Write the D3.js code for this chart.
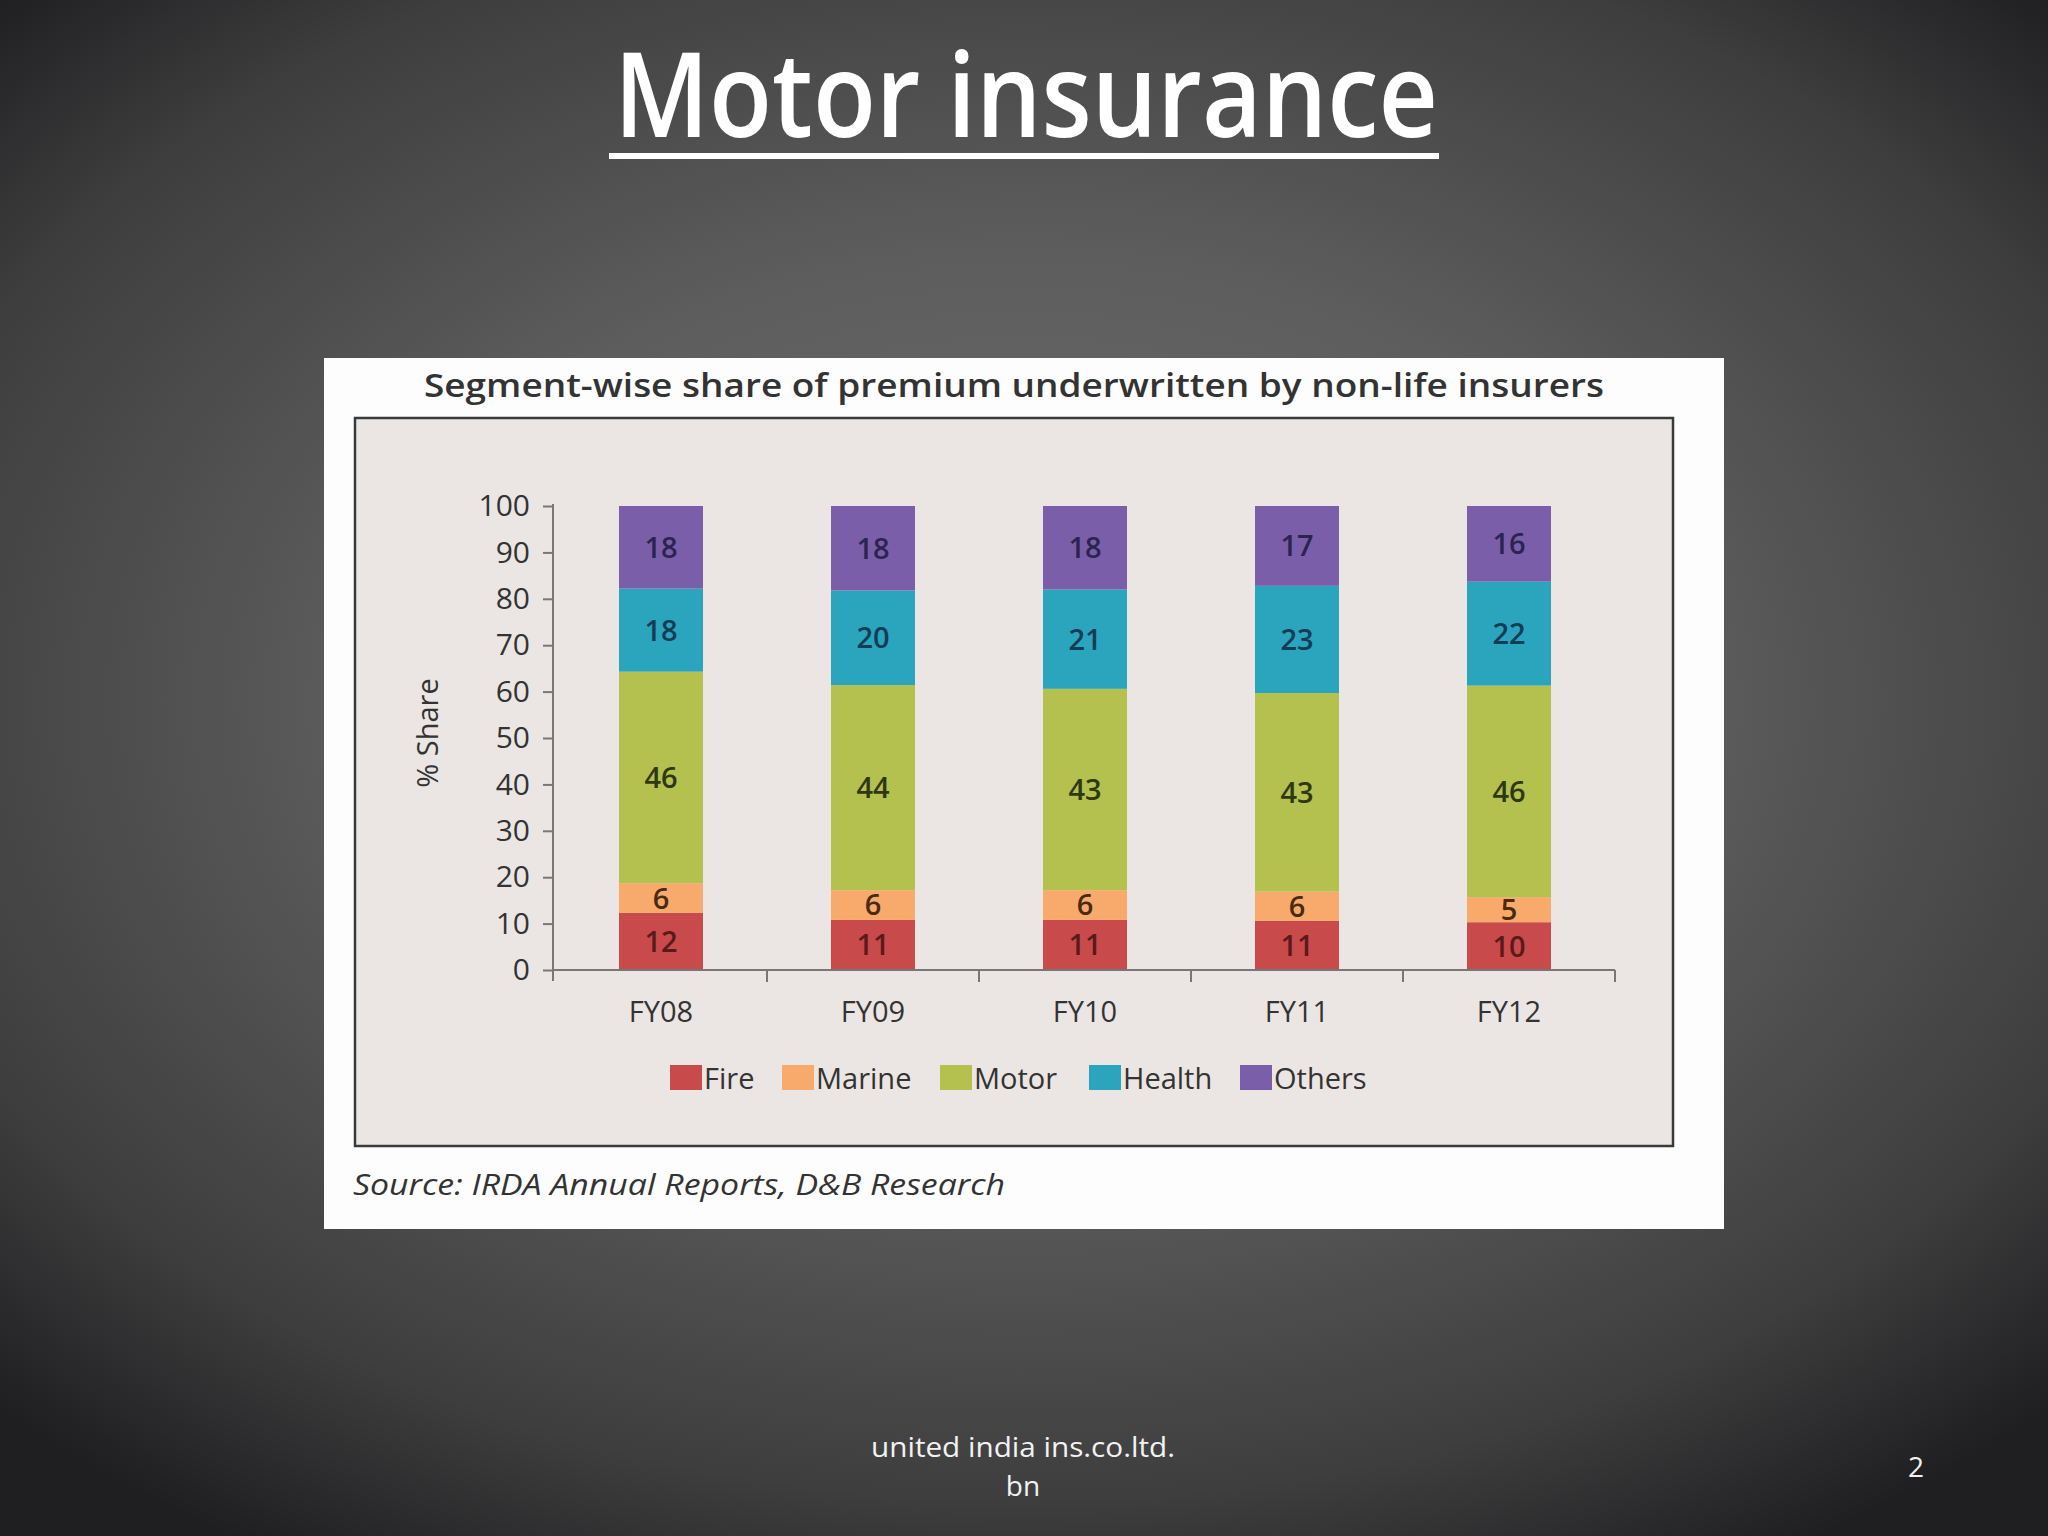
<!DOCTYPE html>
<html>
<head>
<meta charset="utf-8">
<script src="https://cdn.jsdelivr.net/npm/d3@7"></script>
<style>
html,body{margin:0;padding:0;background:#333;}
svg{display:block;}
text{font-family:"Open Sans","Noto Sans",sans-serif;}
</style>
</head>
<body>
<svg id="c" width="2048" height="1536"></svg>
<script>
// ---- data ----
const categories = ["FY08", "FY09", "FY10", "FY11", "FY12"];
const seriesNames = ["Fire", "Marine", "Motor", "Health", "Others"];
const fire   = [12.3, 10.8, 10.8, 10.6, 10.3];
const marine = [6.4, 6.4, 6.4, 6.3, 5.4];
const motor  = [45.6, 44.2, 43.4, 42.8, 45.6];
const health = [17.9, 20.4, 21.4, 23.1, 22.4];
const others = [17.8, 18.2, 18.0, 17.2, 16.3];
const yTicks = [0, 10, 20, 30, 40, 50, 60, 70, 80, 90, 100];
const pageTitle = "Motor insurance";
const chartTitle = "Segment-wise share of premium underwritten by non-life insurers";
const yTitle = "% Share";
const sourceText = "Source: IRDA Annual Reports, D&B Research";
const footer1 = "united india ins.co.ltd.";
const footer2 = "bn";
const pageNo = "2";

// ---- styles ----
const fills = {Fire:"#c94a4b", Marine:"#f8a96c", Motor:"#b4c14f", Health:"#2ba4be", Others:"#7a5ea9"};
const labelInk = {Fire:"#5a1a1c", Marine:"#4a2a10", Motor:"#2e3812", Health:"#133c55", Others:"#2b2450"};

const seriesArrays = {Fire:fire, Marine:marine, Motor:motor, Health:health, Others:others};
const table = categories.map((c, i) => {
  const row = {cat: c};
  seriesNames.forEach(s => row[s] = seriesArrays[s][i]);
  return row;
});

const svg = d3.select("#c");
const defs = svg.append("defs");
const g = defs.append("radialGradient").attr("id","bg")
  .attr("gradientUnits","userSpaceOnUse")
  .attr("cx",1024).attr("cy",700).attr("r",1000)
  .attr("gradientTransform","translate(1024,700) scale(1.45,1) translate(-1024,-700)");
[[0,"#6d6d6d"],[0.45,"#5d5d5e"],[0.8,"#3e3e3f"],[1,"#1f1f21"]].forEach(([o,c]) =>
  g.append("stop").attr("offset",o).attr("stop-color",c));

svg.append("rect").attr("width",2048).attr("height",1536).attr("fill","url(#bg)");

// page title
svg.append("text").attr("x",1026).attr("y",137).attr("text-anchor","middle")
  .attr("fill","#ffffff").attr("font-size",118).attr("font-weight",600)
  .attr("textLength",824).attr("lengthAdjust","spacingAndGlyphs")
  .text(pageTitle);
svg.append("rect").attr("x",609).attr("y",153).attr("width",830).attr("height",6).attr("fill","#ffffff");

// white card
svg.append("rect").attr("x",324).attr("y",358).attr("width",1400).attr("height",871).attr("fill","#fdfdfd");
svg.append("text").attr("x",1014).attr("y",397).attr("text-anchor","middle")
  .attr("fill","#333").attr("font-size",32).attr("font-weight",600)
  .attr("textLength",1180).attr("lengthAdjust","spacingAndGlyphs")
  .text(chartTitle);

// panel
svg.append("rect").attr("x",355).attr("y",418).attr("width",1318).attr("height",728)
  .attr("fill","#ebe6e3").attr("stroke","#3a3a3a").attr("stroke-width",2.5);

// scales
const x = d3.scaleBand().domain(categories).range([555, 1615]).padding(0);
const y = d3.scaleLinear().domain([0, 100]).range([970, 506]);
const barW = 84;

const stack = d3.stack().keys(seriesNames)(table);

const layer = svg.append("g").selectAll("g").data(stack).join("g")
  .attr("fill", d => fills[d.key]);
layer.selectAll("rect").data(d => d.map(p => ({p, key: d.key}))).join("rect")
  .attr("x", d => x(d.p.data.cat) + x.bandwidth()/2 - barW/2)
  .attr("width", barW)
  .attr("y", d => y(d.p[1]))
  .attr("height", d => y(d.p[0]) - y(d.p[1]));

// value labels
const fmt = d3.format(".0f");
stack.forEach(s => {
  svg.append("g").selectAll("text").data(s).join("text")
    .attr("x", d => x(d.data.cat) + x.bandwidth()/2)
    .attr("y", d => (y(d[0]) + y(d[1]))/2)
    .attr("dy","0.36em")
    .attr("text-anchor","middle")
    .attr("font-size",29).attr("font-weight",600)
    .attr("fill", labelInk[s.key])
    .text(d => fmt(d[1]-d[0]));
});

// y axis
const yAxis = svg.append("g").attr("transform","translate(553,0)")
  .call(d3.axisLeft(y).tickValues(yTicks).tickSize(10).tickPadding(13));
yAxis.select(".domain").remove();
yAxis.selectAll(".tick line").attr("stroke","#777").attr("stroke-width",2);
yAxis.selectAll(".tick text").attr("fill","#333").attr("font-size",30)
  .attr("font-family","'Open Sans','Noto Sans',sans-serif");
svg.append("line").attr("x1",553).attr("x2",553).attr("y1",y(100)-2).attr("y2",981)
  .attr("stroke","#777").attr("stroke-width",2);

// x axis
svg.append("line").attr("x1",553).attr("x2",x.range()[1]).attr("y1",y(0)).attr("y2",y(0))
  .attr("stroke","#777").attr("stroke-width",2);
const bounds = categories.map(c => x(c)).concat([x.range()[1]]);
svg.append("g").selectAll("line").data(bounds.slice(1)).join("line")
  .attr("x1", d => d).attr("x2", d => d).attr("y1", y(0)).attr("y2", y(0)+12)
  .attr("stroke","#777").attr("stroke-width",2);
const xAxis = svg.append("g").attr("transform",`translate(0,${y(0)})`)
  .call(d3.axisBottom(x).tickSize(0).tickPadding(31));
xAxis.select(".domain").remove();
xAxis.selectAll(".tick text").attr("fill","#333").attr("font-size",29)
  .attr("font-family","'Open Sans','Noto Sans',sans-serif");

// y title
svg.append("text").attr("transform","translate(438,733) rotate(-90)")
  .attr("text-anchor","middle").attr("fill","#333").attr("font-size",29)
  .text(yTitle);

// legend
const legendX = [670, 782, 940, 1089, 1240];
const lg = svg.append("g").selectAll("g").data(seriesNames).join("g")
  .attr("transform", (d,i) => `translate(${legendX[i]},1065)`);
lg.append("rect").attr("width",32).attr("height",25).attr("fill", d => fills[d]);
lg.append("text").attr("x",34).attr("y",24).attr("font-size",29).attr("fill","#333").text(d => d);

// source
svg.append("text").attr("x",353).attr("y",1195).attr("font-size",29).attr("font-style","italic")
  .attr("fill","#333").attr("textLength",652).attr("lengthAdjust","spacingAndGlyphs")
  .text(sourceText);

// footer
svg.append("text").attr("x",1023).attr("y",1457).attr("text-anchor","middle")
  .attr("font-size",28).attr("fill","#f2f2f2").attr("textLength",304).attr("lengthAdjust","spacingAndGlyphs")
  .text(footer1);
svg.append("text").attr("x",1023).attr("y",1496).attr("text-anchor","middle")
  .attr("font-size",28).attr("fill","#f2f2f2").text(footer2);
svg.append("text").attr("x",1916).attr("y",1477).attr("text-anchor","middle")
  .attr("font-size",28).attr("fill","#f2f2f2").text(pageNo);
</script>
</body>
</html>
